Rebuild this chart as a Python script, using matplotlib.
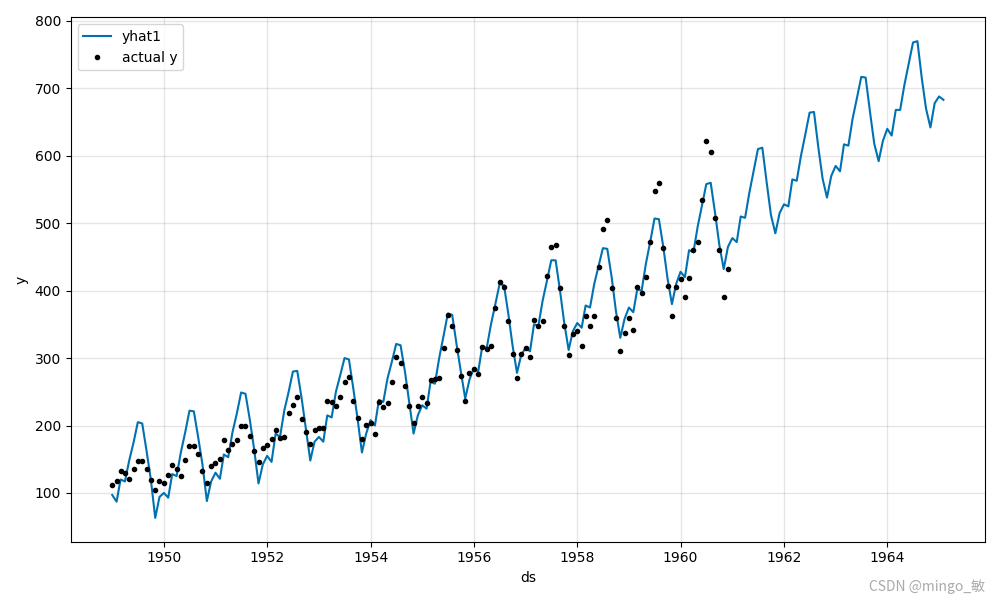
import matplotlib
matplotlib.use("Agg")
import matplotlib.pyplot as plt
from matplotlib import font_manager as fm
import pandas as pd

actual_y = [
112,118,132,129,121,135,148,148,136,119,104,118,
115,126,141,135,125,149,170,170,158,133,114,140,
145,150,178,163,172,178,199,199,184,162,146,166,
171,180,193,181,183,218,230,242,209,191,172,194,
196,196,236,235,229,243,264,272,237,211,180,201,
204,188,235,227,234,264,302,293,259,229,203,229,
242,233,267,269,270,315,364,347,312,274,237,278,
284,277,317,313,318,374,413,405,355,306,271,306,
315,301,356,348,355,422,465,467,404,347,305,336,
340,318,362,348,363,435,491,505,404,359,310,337,
360,342,406,396,420,472,548,559,463,407,362,405,
417,391,419,461,472,535,622,606,508,461,390,432]

yhat1 = [
97,87,120,117,148,175,205,203,162,120,63,94,
100,93,128,125,160,190,222,221,182,142,88,117,
130,121,157,153,190,218,249,247,208,165,114,142,
155,146,188,183,222,250,280,281,240,195,148,176,
183,176,215,212,250,275,300,298,255,210,160,188,
208,200,238,235,270,295,321,319,280,235,188,215,
230,225,265,262,300,333,366,364,320,280,240,268,
285,280,318,315,350,380,410,408,365,318,278,305,
315,310,350,348,385,415,445,445,400,352,312,340,
352,345,378,375,410,437,463,462,420,370,330,358,
375,368,402,400,440,473,507,506,465,418,380,410,
428,420,460,457,495,527,558,560,515,468,432,465,
478,472,510,508,545,578,610,612,560,512,485,515,
528,525,565,563,600,632,664,665,612,566,538,570,
585,577,617,615,655,686,717,716,665,618,592,622,
640,630,668,668,705,737,768,770,715,670,642,678,
688,683]

ds_actual = pd.date_range("1949-01-01", periods=len(actual_y), freq="MS")
ds_hat = pd.date_range("1949-01-01", periods=len(yhat1), freq="MS")

def wnum(w):
    if isinstance(w, (int, float)):
        return w
    return {"ultralight": 200, "light": 300, "normal": 400, "regular": 400, "book": 400,
            "medium": 500, "semibold": 600, "demibold": 600, "bold": 700,
            "heavy": 800, "black": 900}.get(str(w).lower(), 400)

cands = [f for f in fm.fontManager.ttflist if "CJK" in f.name and "Sans" in f.name]
if not cands:
    cands = [f for f in fm.fontManager.ttflist if "CJK" in f.name]
cjk = None
if cands:
    cands.sort(key=lambda f: (abs(wnum(f.weight) - 400), "SC" not in f.name))
    cjk = cands[0].fname
wm_prop = fm.FontProperties(fname=cjk, size=10) if cjk else fm.FontProperties(size=10)

fig, ax = plt.subplots(figsize=(10, 6), dpi=100)
ax.plot(ds_hat, yhat1, color="#0072B2", ls="-", label="yhat1")
ax.plot(ds_actual, actual_y, "k.", label="actual y")
ax.grid(True, which="major", c="gray", ls="-", lw=1, alpha=0.2)
ax.set_xlabel("ds")
ax.set_ylabel("y")
ax.legend(loc="upper left")
fig.tight_layout()
fig.text(0.985, 0.01, "CSDN @mingo_敏", ha="right", va="bottom", color="#aaaaaa",
         fontproperties=wm_prop)
fig.savefig("out.png")
